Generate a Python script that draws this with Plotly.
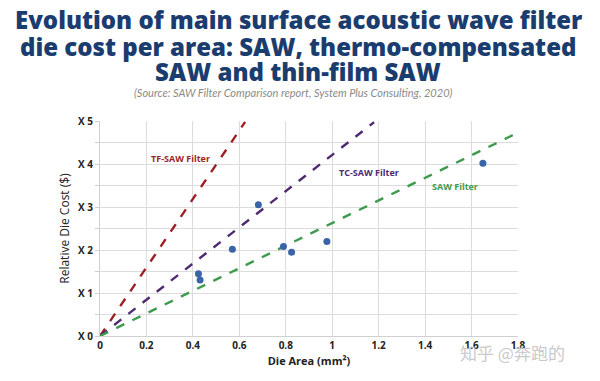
import plotly.graph_objects as go

# Data
die_area = [0.424, 0.431, 0.570, 0.682, 0.790, 0.825, 0.977, 1.649]
rel_cost = [1.45, 1.30, 2.02, 3.05, 2.08, 1.95, 2.20, 4.02]

trend_names = ["TF-SAW Filter", "TC-SAW Filter", "SAW Filter"]
trend_x = [[0, 0.625], [0, 1.18], [0, 1.8]]
trend_y = [[0, 4.98], [0, 4.97], [0, 4.73]]
trend_colors = ["#9c1f24", "#4e2a72", "#3e9a4e"]
label_pos = [(0.345, 4.13), (1.16, 3.80), (1.53, 3.47)]

x_ticks = [0, 0.2, 0.4, 0.6, 0.8, 1.0, 1.2, 1.4, 1.6, 1.8]
x_tick_text = ["0", "0.2", "0.4", "0.6", "0.8", "1", "1.2", "1.4", "1.6", "1.8"]
y_ticks = [0, 1, 2, 3, 4, 5]
y_tick_text = ["X 0", "X 1", "X 2", "X 3", "X 4", "X 5"]

titles = ["Evolution of main surface acoustic wave filter",
          "die cost per area: SAW, thermo-compensated",
          "SAW and thin-film SAW"]
subtitle = "(Source: SAW Filter Comparison report, System Plus Consulting, 2020)"
watermark = "知乎 @奔跑的"

# page body has an 8px margin: work in screen pixels and shift
OFF = 8
W, H = 600 - OFF, 381 - OFF
L, R, T, B = 100 - OFF, 518 - OFF, 121 - OFF, 336 - OFF

def px(x):
    return (x - OFF - L) / (R - L)

def py(y):
    return (B - (y - OFF)) / (B - T)

fig = go.Figure()
for name, xs, ys, c in zip(trend_names, trend_x, trend_y, trend_colors):
    fig.add_trace(go.Scatter(x=xs, y=ys, mode="lines", name=name,
                             line=dict(color=c, width=2.4, dash="dash"),
                             hoverinfo="skip"))
fig.add_trace(go.Scatter(x=die_area, y=rel_cost, mode="markers",
                         marker=dict(color="#3b64a8", size=7), name="Dies"))

for name, (lx, ly), c in zip(trend_names, label_pos, trend_colors):
    fig.add_annotation(x=lx, y=ly, text="<b>" + name + "</b>", showarrow=False,
                       font=dict(family="Open Sans", size=9, color=c),
                       xanchor="center", yanchor="middle")

title_font = dict(family="Open Sans", size=24, color="#1b3c6e", weight=800)
for t, ty in zip(titles, [20, 46, 71]):
    fig.add_annotation(xref="paper", yref="paper", x=px(298), y=py(ty),
                       text=t, showarrow=False, font=title_font,
                       xanchor="center", yanchor="middle")
fig.add_annotation(xref="paper", yref="paper", x=px(293), y=py(93),
                   text="<i>" + subtitle + "</i>",
                   showarrow=False, font=dict(family="Lato", size=11, color="#8a8a8a"),
                   xanchor="center", yanchor="middle")
fig.add_annotation(xref="paper", yref="paper", x=px(512), y=py(352),
                   text=watermark, showarrow=False,
                   font=dict(family="Noto Sans CJK SC", size=17, color="rgba(195,195,195,0.9)"),
                   xanchor="center", yanchor="middle")

fig.update_layout(
    width=W, height=H,
    margin=dict(l=L, r=W - R, t=T, b=H - B),
    paper_bgcolor="white", plot_bgcolor="white",
    showlegend=False,
    xaxis=dict(range=[0, 1.8], tickvals=x_ticks, ticktext=x_tick_text,
               automargin=False,
               showgrid=True, gridcolor="#dcdcdc", gridwidth=1,
               zeroline=False, showline=True, linecolor="#d0d0d0",
               tickfont=dict(family="Open Sans", size=10, color="#222", weight=700),
               ticks="", title=dict(text="<b>Die Area (mm²)</b>",
                                    font=dict(family="Open Sans", size=11, color="#222"),
                                    standoff=6)),
    yaxis=dict(range=[0, 5], tickvals=y_ticks, ticktext=y_tick_text,
               automargin=False,
               showgrid=True, gridcolor="#dcdcdc", gridwidth=1,
               minor=dict(dtick=0.5, showgrid=True, gridcolor="#dcdcdc", ticks="outside",
                          ticklen=4, tickcolor="#d0d0d0"),
               zeroline=False, showline=True, linecolor="#d0d0d0",
               tickfont=dict(family="Open Sans", size=10, color="#222", weight=700),
               ticks="outside", ticklen=4, tickcolor="#d0d0d0",
               title=dict(text="Relative Die Cost ($)",
                          font=dict(family="Open Sans", size=12, color="#222"),
                          standoff=5)),
)

fig.write_html("out.html")
